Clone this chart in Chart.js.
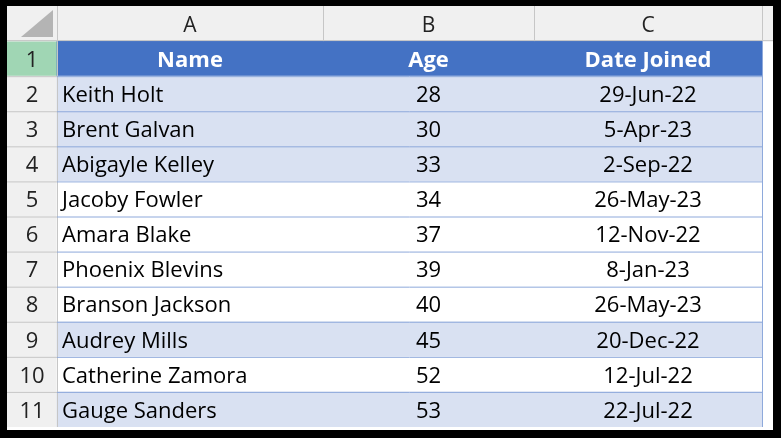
<!DOCTYPE html>
<html>
<head>
<meta charset="utf-8">
<script src="https://cdn.jsdelivr.net/npm/chart.js@4"></script>
<style>
  html, body { margin: 0; padding: 0; background: #000; }
  #wrap { position: absolute; left: 7px; top: 6px; width: 766px; height: 424px; background: #fff; }
  #grid { position: absolute; left: 0; top: 0; }
</style>
</head>
<body>
<div id="wrap"><canvas id="grid" width="766" height="421"></canvas></div>
<script>
// sheet data
const columnLetters = ["A", "B", "C"];
const headers = ["Name", "Age", "Date Joined"];
const names = ["Keith Holt", "Brent Galvan", "Abigayle Kelley", "Jacoby Fowler", "Amara Blake",
  "Phoenix Blevins", "Branson Jackson", "Audrey Mills", "Catherine Zamora", "Gauge Sanders"];
const ages = [28, 30, 33, 34, 37, 39, 40, 45, 52, 53];
const joined = ["29-Jun-22", "5-Apr-23", "2-Sep-22", "26-May-23", "12-Nov-22",
  "8-Jan-23", "26-May-23", "20-Dec-22", "12-Jul-22", "22-Jul-22"];
const shaded = [true, true, true, false, false, false, false, true, false, true];

// layout (canvas px along x)
const colEdges = [0, 50, 316, 527, 755];
const rowLabels = ["", "1", "2", "3", "4", "5", "6", "7", "8", "9", "10", "11"];

const blue = "#4472C4", band = "#D9E1F2", line = "#8EA9DB";
const fillColors = rowLabels.map((r, i) => i === 0 ? "#F0F0F0" : i === 1 ? blue : (shaded[i - 2] ? band : "#FFFFFF"));
const numColors = rowLabels.map((r, i) => i === 0 ? "#F0F0F0" : i === 1 ? "#A0D6B4" : "#F0F0F0");

const font = '"Open Sans", "Noto Sans", sans-serif';

const cellPlugin = {
  id: "cells",
  afterDatasetsDraw(chart) {
    const ctx = chart.ctx, xs = chart.scales.x, ys = chart.scales.y;
    const X = v => xs.getPixelForValue(v);
    const half = ys.getPixelForValue(1) - ys.getPixelForValue(0);
    const top = i => ys.getPixelForValue(i) - half / 2;
    const mid = i => ys.getPixelForValue(i) + 2;
    ctx.save();
    // corner triangle
    ctx.fillStyle = "#B4B4B4";
    ctx.beginPath();
    ctx.moveTo(X(46), top(1) - 4); ctx.lineTo(X(46), top(0) + 4); ctx.lineTo(X(14), top(1) - 4);
    ctx.closePath(); ctx.fill();
    // gray header lines
    ctx.strokeStyle = "#C6C6C6"; ctx.lineWidth = 1;
    ctx.beginPath();
    for (let c = 1; c < colEdges.length; c++) { ctx.moveTo(X(colEdges[c]) + 0.5, top(0)); ctx.lineTo(X(colEdges[c]) + 0.5, top(1)); }
    ctx.moveTo(0, top(1) - 0.5); ctx.lineTo(X(766), top(1) - 0.5);
    for (let i = 2; i <= rowLabels.length; i++) { ctx.moveTo(0, top(i) + 0.5); ctx.lineTo(X(50), top(i) + 0.5); }
    ctx.moveTo(X(50) + 0.5, top(1)); ctx.lineTo(X(50) + 0.5, top(rowLabels.length));
    ctx.stroke();
    // blue table lines
    ctx.strokeStyle = line;
    ctx.beginPath();
    for (let i = 2; i <= rowLabels.length; i++) { ctx.moveTo(X(50), top(i) + 0.5); ctx.lineTo(X(755), top(i) + 0.5); }
    ctx.moveTo(X(755) + 0.5, top(1)); ctx.lineTo(X(755) + 0.5, top(rowLabels.length));
    ctx.stroke();
    // text
    ctx.textBaseline = "middle";
    ctx.fillStyle = "#222"; ctx.textAlign = "center"; ctx.font = "21px " + font;
    columnLetters.forEach((l, c) => ctx.fillText(l, (X(colEdges[c + 1]) + X(colEdges[c + 2])) / 2, mid(0)));
    ctx.font = "22px " + font;
    rowLabels.forEach((r, i) => { if (i) ctx.fillText(r, X(25), mid(i)); });
    ctx.fillStyle = "#fff"; ctx.font = "bold 22px " + font;
    headers.forEach((h, c) => ctx.fillText(h, (X(colEdges[c + 1]) + X(colEdges[c + 2])) / 2, mid(1)));
    ctx.fillStyle = "#000"; ctx.font = "22px " + font;
    names.forEach((n, k) => {
      ctx.textAlign = "left"; ctx.fillText(n, X(55), mid(k + 2));
      ctx.textAlign = "center";
      ctx.fillText(String(ages[k]), (X(colEdges[2]) + X(colEdges[3])) / 2, mid(k + 2));
      ctx.fillText(joined[k], (X(colEdges[3]) + X(colEdges[4])) / 2, mid(k + 2));
    });
    ctx.restore();
  }
};

new Chart(document.getElementById("grid"), {
  type: "bar",
  data: {
    labels: rowLabels,
    datasets: [
      { data: rowLabels.map((r, i) => i === 0 ? [0, 766] : [50, 755]), backgroundColor: fillColors, grouped: false },
      { data: rowLabels.map(() => [0, 50]), backgroundColor: numColors, grouped: false }
    ]
  },
  options: {
    indexAxis: "y",
    responsive: false,
    animation: false,
    layout: { padding: 0 },
    barPercentage: 1,
    categoryPercentage: 1,
    plugins: { legend: { display: false }, tooltip: { enabled: false } },
    scales: {
      x: { type: "linear", min: 0, max: 766, display: false },
      y: { type: "category", display: false }
    }
  },
  plugins: [cellPlugin]
});
</script>
</body>
</html>
